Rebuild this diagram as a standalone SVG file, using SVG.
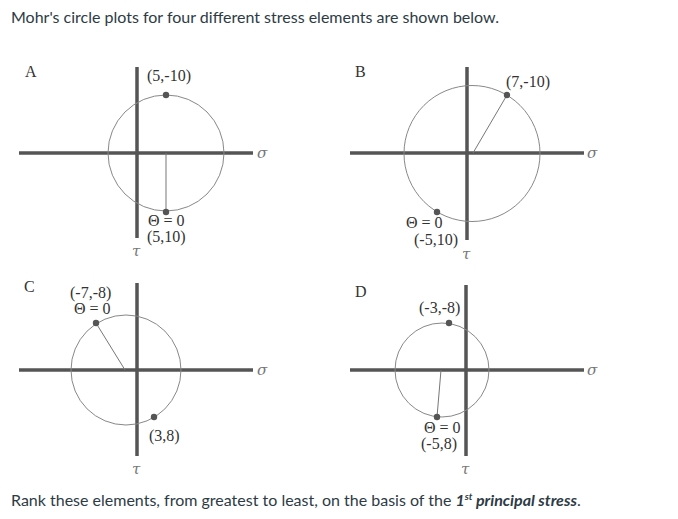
<svg xmlns="http://www.w3.org/2000/svg" width="678" height="519" viewBox="0 0 678 519">
<style>
.ax{stroke:#555;stroke-width:3.5;fill:none}
.cir{stroke:#888;stroke-width:1;fill:none}
.ln{stroke:#777;stroke-width:1}
.dot{fill:#555}
.lb{font-family:"Liberation Serif",serif;font-size:16px;fill:#333}
.gk{font-family:"DejaVu Serif",serif;font-size:15px;font-style:italic;fill:#777}
.hd{font-family:Lato,sans-serif;font-size:16px;fill:#2d3b45}
</style>
<rect width="678" height="519" fill="#fff"/>
<text class="hd" x="11" y="23">Mohr's circle plots for four different stress elements are shown below.</text>
<g id="A">
<text class="lb" x="25" y="77">A</text>
<line class="ax" x1="19" y1="153" x2="253" y2="153"/><line class="ax" x1="137" y1="67" x2="137" y2="238"/>
<circle class="cir" cx="166" cy="153" r="58"/>
<line class="ln" x1="166" y1="153" x2="166" y2="212"/>
<circle class="dot" cx="166" cy="95" r="3.2"/><circle class="dot" cx="166" cy="212" r="3.2"/>
<text class="lb" x="147" y="81">(5,-10)</text>
<text class="lb" x="148" y="226">Θ = 0</text><text class="lb" x="147" y="242">(5,10)</text>
<text class="gk" x="257" y="158">σ</text><text class="gk" x="132" y="256">τ</text>
</g>
<g id="B">
<text class="lb" x="355" y="77">B</text>
<line class="ax" x1="350" y1="153" x2="584" y2="153"/><line class="ax" x1="467" y1="67" x2="467" y2="240"/>
<circle class="cir" cx="472" cy="153.5" r="68"/>
<line class="ln" x1="473" y1="153" x2="507" y2="95"/>
<circle class="dot" cx="507" cy="95" r="3.2"/><circle class="dot" cx="437" cy="212" r="3.2"/>
<text class="lb" x="506" y="87">(7,-10)</text>
<text class="lb" x="406" y="228">Θ = 0</text><text class="lb" x="414" y="245">(-5,10)</text>
<text class="gk" x="587" y="158">σ</text><text class="gk" x="462" y="259">τ</text>
</g>
<g id="C">
<text class="lb" x="24" y="292">C</text>
<line class="ax" x1="19" y1="370" x2="253" y2="370"/><line class="ax" x1="137" y1="283" x2="137" y2="456"/>
<circle class="cir" cx="126" cy="370" r="55"/>
<line class="ln" x1="125" y1="370" x2="96" y2="323"/>
<circle class="dot" cx="96" cy="323" r="3.2"/><circle class="dot" cx="154" cy="417" r="3.2"/>
<text class="lb" x="70" y="298">(-7,-8)</text><text class="lb" x="74" y="314">Θ = 0</text>
<text class="lb" x="149" y="441">(3,8)</text>
<text class="gk" x="257" y="375">σ</text><text class="gk" x="132" y="474">τ</text>
</g>
<g id="D">
<text class="lb" x="355" y="297">D</text>
<line class="ax" x1="350" y1="370" x2="584" y2="370"/><line class="ax" x1="466" y1="285" x2="466" y2="456"/>
<circle class="cir" cx="442" cy="370" r="47"/>
<line class="ln" x1="441" y1="370" x2="437" y2="417"/>
<circle class="dot" cx="449" cy="323" r="3.2"/><circle class="dot" cx="437" cy="417" r="3.2"/>
<text class="lb" x="419" y="313">(-3,-8)</text>
<text class="lb" x="424" y="433">Θ = 0</text><text class="lb" x="421" y="449">(-5,8)</text>
<text class="gk" x="587" y="375">σ</text><text class="gk" x="461" y="474">τ</text>
</g>
<text class="hd" x="11" y="506">Rank these elements, from greatest to least, on the basis of the <tspan font-weight="bold" font-style="italic">1<tspan font-size="10" dy="-6">st</tspan><tspan dy="6"> principal stress</tspan></tspan>.</text>
</svg>
